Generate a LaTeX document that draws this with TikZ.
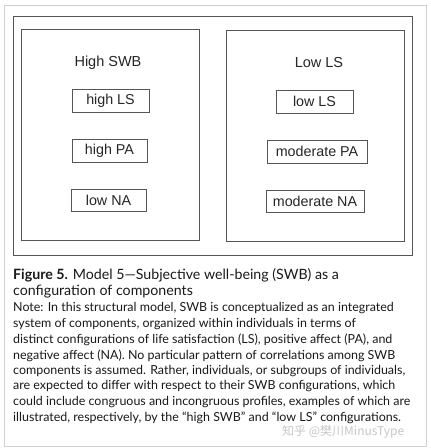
\documentclass[tikz,border=0pt]{standalone}
\usepackage{fontspec}
\setmainfont{Liberation Sans}
\newfontfamily\capfont[Ligatures=TeX]{Lato}
\newfontfamily\cjkfont{Noto Sans CJK SC}
\definecolor{boxline}{HTML}{555555}
\definecolor{frameline}{HTML}{D0D0D0}
\begin{document}
\begin{tikzpicture}[x=1pt,y=-1pt,
  panel/.style={draw=boxline, line width=1pt},
  comp/.style={draw=boxline, line width=0.9pt, font=\fontsize{14.3}{16}\selectfont, inner sep=0pt, text=black!85},
  heading/.style={font=\fontsize{14.5}{16}\selectfont, text=black!85},
  capline/.style={anchor=west, inner sep=0pt, font=\capfont\fontsize{14.2}{16}\selectfont, text=black!90},
  noteline/.style={anchor=west, inner sep=0pt, font=\capfont\fontsize{12.45}{14}\selectfont, text=black!90}]
\useasboundingbox (0,0) rectangle (431,448);
\fill[white] (0,0) rectangle (431,448);
\draw[frameline, line width=0.8pt] (4,5) rectangle (426,446);
\draw[panel] (13,16) rectangle (412,255);
\draw[panel] (21,29) rectangle (199,240);
\draw[panel] (226,30) rectangle (404,241);
\node[heading] (hswb) at (108,63) {High SWB};
\node[heading] (lls) at (319,63) {Low LS};
\node[comp, minimum width=77pt, minimum height=23pt] (hls) at (110.5,100.5) {high LS};
\node[comp, minimum width=75pt, minimum height=23pt] (hpa) at (109.5,150.5) {high PA};
\node[comp, minimum width=75pt, minimum height=22pt] (lna) at (108.5,200) {low NA};
\node[comp, minimum width=77pt, minimum height=23pt] (lowls) at (314.5,101.5) {low LS};
\node[comp, minimum width=100pt, minimum height=23pt] (mpa) at (317,151.5) {moderate PA};
\node[comp, minimum width=98pt, minimum height=22pt] (mna) at (315,201) {moderate NA};
\node[capline] (c1) at (13,275) {\textbf{Figure 5.} Model 5—Subjective well-being (SWB) as a};
\node[capline] (c2) at (13,292) {configuration of components};
\node[noteline] (n1) at (13,308.5) {Note: In this structural model, SWB is conceptualized as an integrated};
\node[noteline] (n2) at (13,324.5) {system of components, organized within individuals in terms of};
\node[noteline] (n3) at (13,340) {distinct configurations of life satisfaction (LS), positive affect (PA), and};
\node[noteline] (n4) at (13,355.5) {negative affect (NA). No particular pattern of correlations among SWB};
\node[noteline] (n5) at (13,371) {components is assumed. Rather, individuals, or subgroups of individuals,};
\node[noteline] (n6) at (13,386.5) {are expected to differ with respect to their SWB configurations, which};
\node[noteline] (n7) at (13,402.5) {could include congruous and incongruous profiles, examples of which are};
\node[noteline] (n8) at (13,418) {illustrated, respectively, by the “high SWB” and “low LS” configurations.};
\node[anchor=west, inner sep=0pt, text=black!22, font=\cjkfont\fontsize{12}{14}\selectfont] (wm) at (282,432) {知乎 @樊川MinusType};
\end{tikzpicture}
\end{document}
